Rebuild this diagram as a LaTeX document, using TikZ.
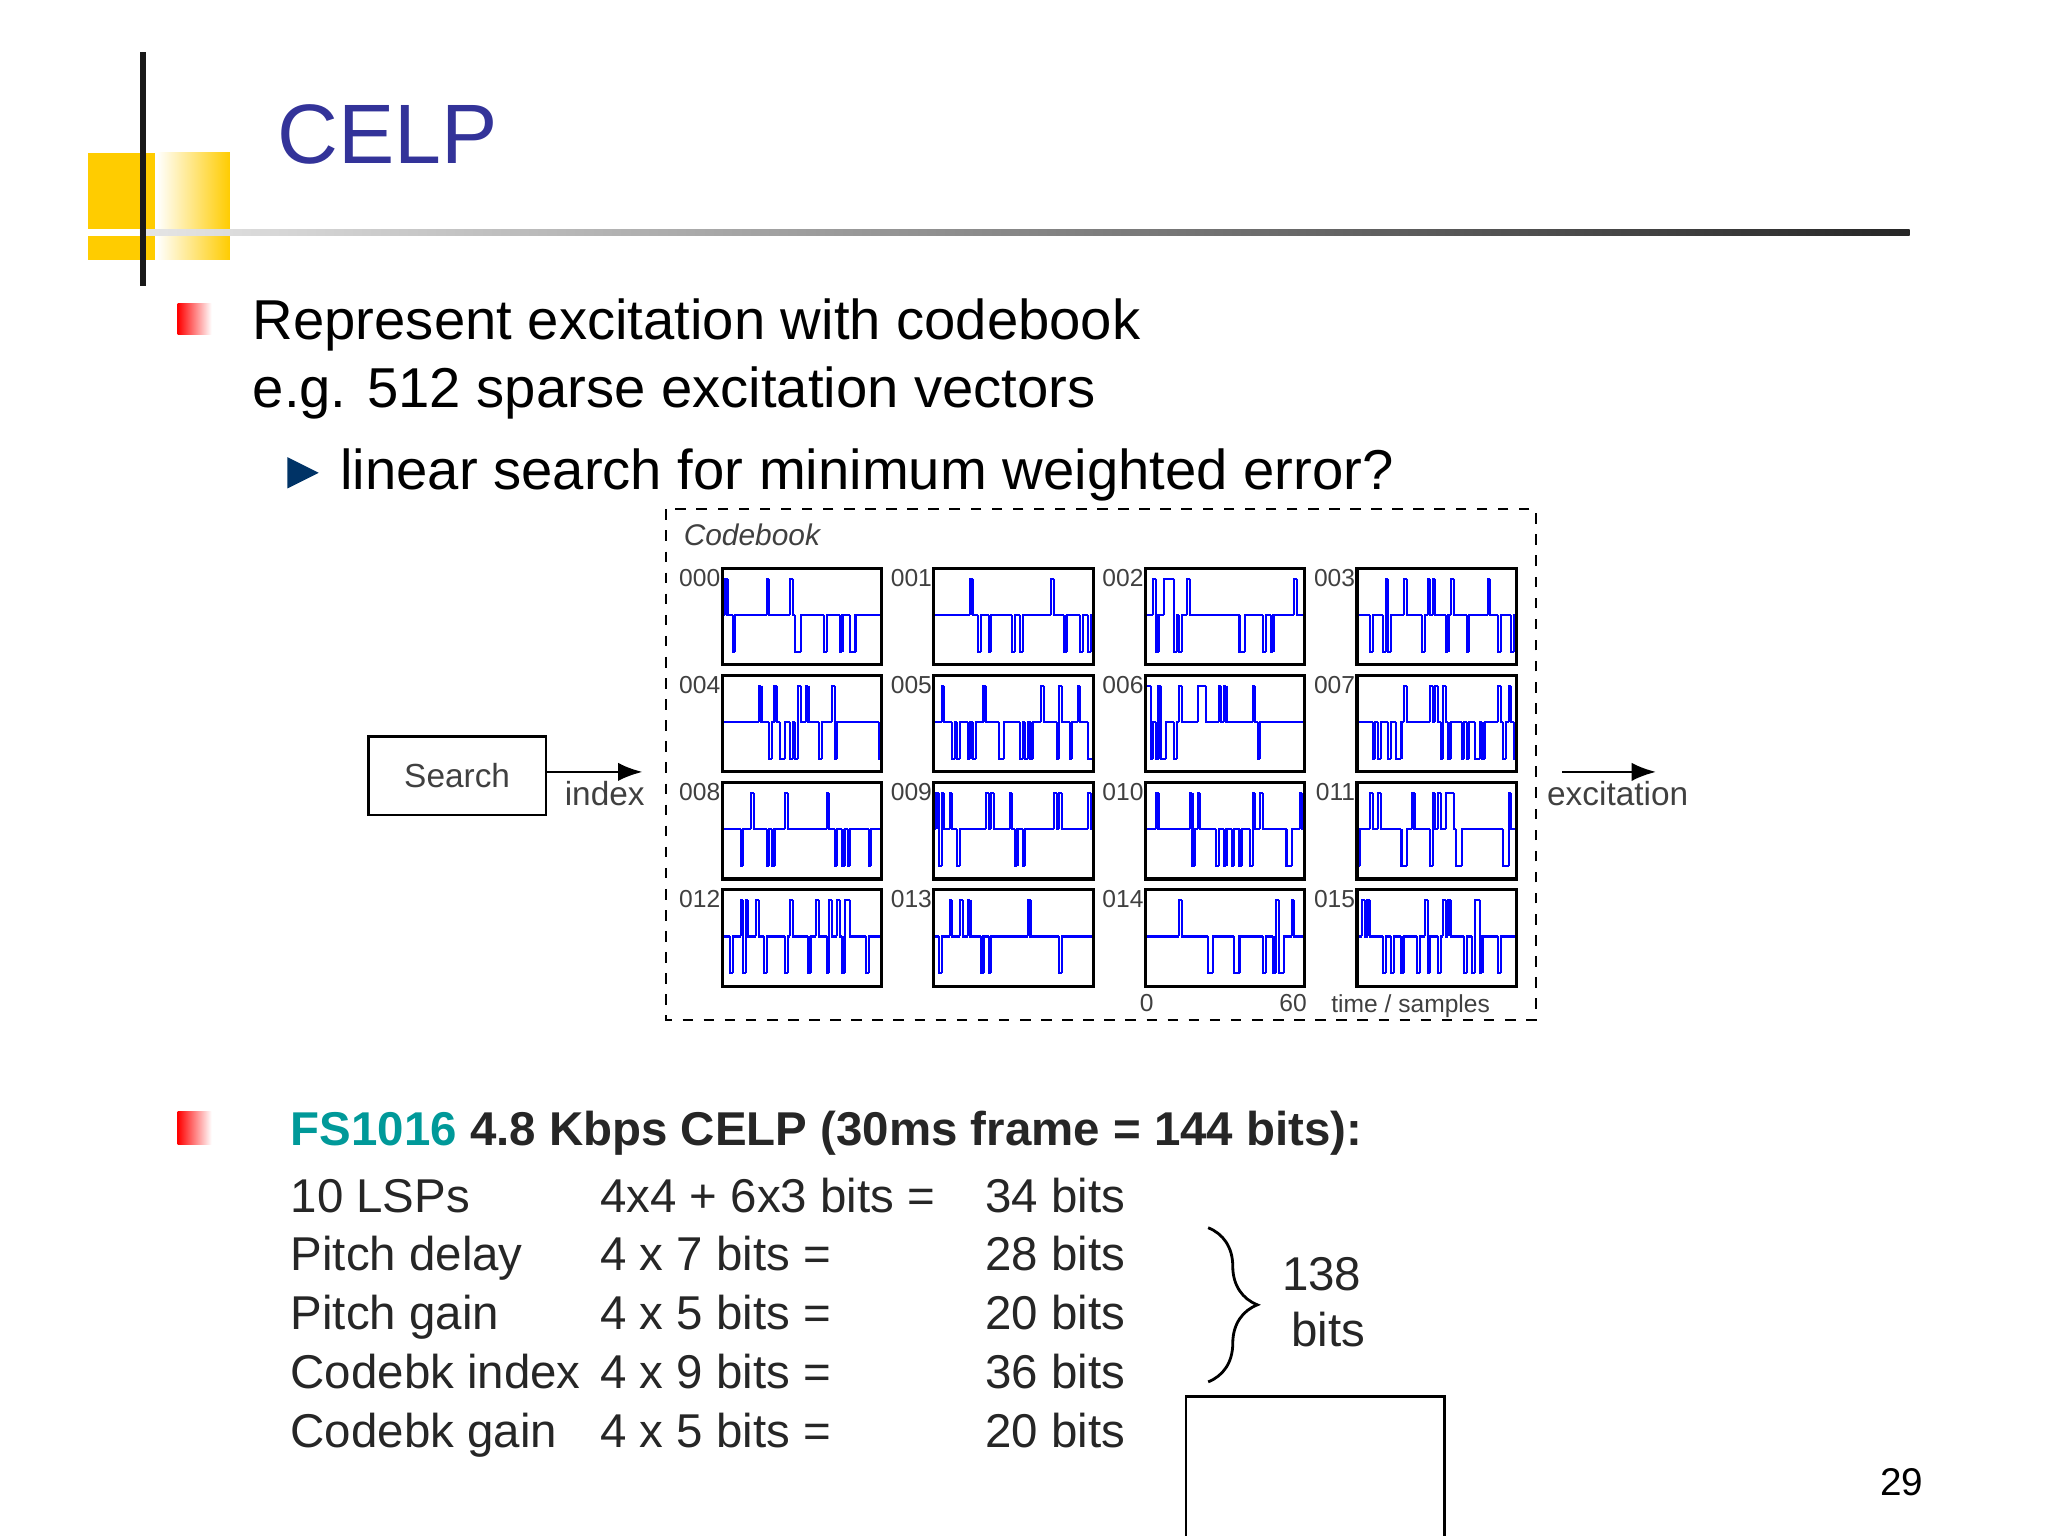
\documentclass[tikz,border=0pt]{standalone}
\usepackage{fontspec}
\setmainfont{Liberation Sans}
\usetikzlibrary{arrows.meta,decorations.pathreplacing}
\definecolor{ttl}{RGB}{51,51,153}
\definecolor{yel}{RGB}{255,204,0}
\definecolor{teal2}{RGB}{0,153,153}
\definecolor{navy}{RGB}{0,51,102}
\begin{document}
\begin{tikzpicture}[x=0.013061cm,y=-0.013061cm,
  cb/.style={draw=black,line width=0.9pt},
  wv/.style={draw=blue,line width=0.6pt},
  lab/.style={font=\fontsize{7}{8}\selectfont,text=black!75,inner sep=0pt},
  body/.style={font=\fontsize{16}{19}\selectfont,anchor=base west,inner sep=0pt},
  tab/.style={font=\fontsize{13.5}{16}\selectfont,anchor=base west,inner sep=0pt,text=black!85}]
\useasboundingbox (0,0) rectangle (1568,1176);
% logo
\fill[yel] (67,117) rectangle (119,175);
\fill[yel] (67,181) rectangle (119,199);
\shade[left color=white,right color=yel] (120,117) rectangle (176,175);
\shade[left color=white,right color=yel] (120,181) rectangle (176,199);
\shade[left color=black!10,right color=black!85] (107,176) rectangle (1462,180);
\fill[black!90] (107,40) rectangle (112,219);
\node[anchor=base west,inner sep=0pt,text=ttl,font=\fontsize{24}{28}\selectfont] (title) at (212,125) {CELP};
% bullets
\shade[left color=red,right color=white] (136,232) rectangle (162,256);
\node[body] (b1) at (193,260) {Represent excitation with codebook};
\node[body] (b2) at (193,312) {e.g. 512 sparse excitation vectors};
\fill[navy] (220,350) -- (244,362) -- (220,374) -- cycle;
\node[body] (b3) at (260,375) {linear search for minimum weighted error?};
% codebook frame
\draw[dashed,line width=0.6pt] (510,390) rectangle (1176,781);
\node[anchor=base west,inner sep=0pt,font=\fontsize{8.5}{10}\selectfont\itshape,text=black!75] (cbt) at (523,418) {Codebook};
\pgfmathsetseed{11}
\foreach \r in {0,...,3}{
 \foreach \c in {0,...,3}{
  \pgfmathsetmacro{\xx}{553+\c*162}
  \pgfmathsetmacro{\yy}{435+\r*82}
  \pgfmathtruncatemacro{\n}{\r*4+\c}
  \node[lab,anchor=north east] (l\n) at (\xx-1,\yy) {\ifnum\n<10 00\n\else 0\n\fi};
  \begin{scope}[shift={(\xx,\yy)}]
   \xdef\prev{0}
   \foreach \k in {0,...,60}{
     \pgfmathsetmacro{\rv}{rnd}
     \pgfmathtruncatemacro{\v}{\rv>0.88?1:(\rv<0.12?-1:0)}
     \pgfmathsetmacro{\px}{\k*2}
     \draw[wv] (\px,36-28*\prev) -- (\px,36-28*\v) -- (\px+2,36-28*\v);
     \xdef\prev{\v}
   }
   \draw[cb] (0,0) rectangle (122,74);
  \end{scope}
 }}
\node[lab,anchor=north] (t0) at (878,761) {0};
\node[lab,anchor=north] (t60) at (990,761) {60};
\node[lab,anchor=north] (ts) at (1080,761) {time / samples};
% search
\node[draw,line width=0.8pt,minimum width=1.776cm,minimum height=0.784cm,inner sep=0pt,
  font=\fontsize{9.5}{11}\selectfont,text=black!75] (search) at (350,594) {Search};
\coordinate (ia) at (492,591);
\draw[line width=0.8pt,-{Latex[length=7pt]}] (search.east|-ia) -- (ia);
\node[lab,font=\fontsize{9.5}{11}\selectfont,anchor=north] (idx) at (463,598) {index};
\coordinate (ea) at (1196,591);
\coordinate (eb) at (1268,591);
\draw[line width=0.8pt,-{Latex[length=7pt]}] (ea) -- (eb);
\node[lab,font=\fontsize{9.5}{11}\selectfont,anchor=north west] (exc) at (1184,598) {excitation};
% second bullet
\shade[left color=red,right color=white] (136,851) rectangle (162,876);
\node[tab,font=\fontsize{13.5}{16}\selectfont\bfseries] (fs) at (222,877) {\textcolor{teal2}{FS1016} 4.8 Kbps CELP (30ms frame = 144 bits):};
\foreach \i/\a/\b/\cc in {0/10 LSPs/4x4 + 6x3 bits =/34 bits,1/Pitch delay/4 x 7 bits =/28 bits,2/Pitch gain/4 x 5 bits =/20 bits,3/Codebk index/4 x 9 bits =/36 bits,4/Codebk gain/4 x 5 bits =/20 bits}{
  \node[tab] (ta\i) at (222,928+\i*45) {\a};
  \node[tab] (tb\i) at (459,928+\i*45) {\b};
  \node[tab] (tc\i) at (754,928+\i*45) {\cc};
}
\coordinate (br1) at (925,940);
\coordinate (br2) at (925,1058);
\draw[line width=0.8pt,decorate,decoration={brace,amplitude=14pt}] (br1) -- (br2);
\node[tab,align=center,anchor=center] (bits) at (1012,997) {138\\\ bits};
\node[draw,line width=0.8pt,minimum width=2.586cm,minimum height=1.41cm,inner sep=0pt] (box) at (1007,1123) {};
\node[anchor=base east,inner sep=0pt,font=\fontsize{11}{13}\selectfont] (pg) at (1473,1145) {29};
\end{tikzpicture}
\end{document}
